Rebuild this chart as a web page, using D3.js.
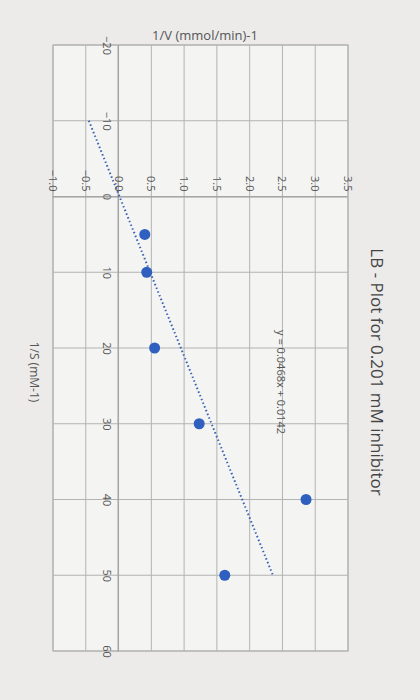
<!DOCTYPE html>
<html>
<head>
<meta charset="utf-8">
<script src="https://cdn.jsdelivr.net/npm/d3@7"></script>
<style>
  body { margin: 0; background: #ecebea; }
  text { font-family: "Open Sans", "Noto Sans", sans-serif; fill: #555; }
</style>
</head>
<body>
<div id="chart"></div>
<script>
// data
const invS = [5, 10, 20, 30, 40, 50];
const invV = [0.40, 0.43, 0.55, 1.23, 2.86, 1.62];
const xTicks = [-20, -10, 0, 10, 20, 30, 40, 50, 60];
const yTicks = [-1, -0.5, 0, 0.5, 1, 1.5, 2, 2.5, 3, 3.5];
const slope = 0.0468, intercept = 0.0142;
const trendRange = [-10, 50];

let width = 420, height = 700;

const svg = d3.select("#chart")
  .append("svg")
  .attr("width", width)
  .attr("height", height);

svg.append("rect")
  .attr("width", width).attr("height", height)
  .attr("fill", "#ecebea");

// the chart is photographed turned 90deg clockwise
const g = svg.append("g")
  .attr("transform", `translate(${width},0) rotate(90)`);

let x = d3.scaleLinear().domain([-20, 60]).range([45, 651]);
let y = d3.scaleLinear().domain([-1, 3.5]).range([367, 72]);

g.append("rect")
  .attr("x", x(-20)).attr("y", y(3.5))
  .attr("width", x(60) - x(-20)).attr("height", y(-1) - y(3.5))
  .attr("fill", "#f4f4f3")
  .attr("stroke", "#aaa");

g.append("g")
  .selectAll("line")
  .data(xTicks)
  .join("line")
  .attr("x1", d => x(d)).attr("x2", d => x(d))
  .attr("y1", y(-1)).attr("y2", y(3.5))
  .attr("stroke", "#b3b3b3");

g.append("g")
  .selectAll("line")
  .data(yTicks)
  .join("line")
  .attr("y1", d => y(d)).attr("y2", d => y(d))
  .attr("x1", x(-20)).attr("x2", x(60))
  .attr("stroke", "#b3b3b3");

// axes crossing at the origin
const xAxis = g.append("g")
  .attr("transform", `translate(0,${y(0)})`)
  .call(d3.axisBottom(x).tickValues(xTicks).tickSize(0).tickPadding(8));
const yAxis = g.append("g")
  .attr("transform", `translate(${x(0)},0)`)
  .call(d3.axisLeft(y).tickValues(yTicks).tickSize(0).tickPadding(5));
[xAxis, yAxis].forEach(a => {
  a.select(".domain").attr("stroke", "#999");
  a.selectAll("text").style("font-size", "11px").style("fill", "#555");
});

g.append("line")
  .attr("x1", x(trendRange[0])).attr("y1", y(slope * trendRange[0] + intercept))
  .attr("x2", x(trendRange[1])).attr("y2", y(slope * trendRange[1] + intercept))
  .attr("stroke", "#3b63b5")
  .attr("stroke-width", 2)
  .attr("stroke-dasharray", "1.5,2.5");

g.append("g")
  .selectAll("circle")
  .data(invS)
  .join("circle")
  .attr("cx", d => x(d))
  .attr("cy", (d, i) => y(invV[i]))
  .attr("r", 5.5)
  .attr("fill", "#2f5fbf");

g.append("text")
  .attr("x", x(24.5)).attr("y", y(2.42))
  .attr("text-anchor", "middle")
  .style("font-size", "11px")
  .text("y = 0.0468x + 0.0142");

g.append("text")
  .attr("x", 372).attr("y", 49)
  .attr("text-anchor", "middle")
  .style("font-size", "17px")
  .style("fill", "#444")
  .text("LB - Plot for 0.201 mM inhibitor");

g.append("text")
  .attr("x", 372).attr("y", 390)
  .attr("text-anchor", "middle")
  .style("font-size", "12px")
  .text("1/S (mM-1)");

// this axis title stays upright in the photo
svg.append("text")
  .attr("x", 205).attr("y", 40)
  .attr("text-anchor", "middle")
  .style("font-size", "13px")
  .text("1/V (mmol/min)-1");
</script>
</body>
</html>
